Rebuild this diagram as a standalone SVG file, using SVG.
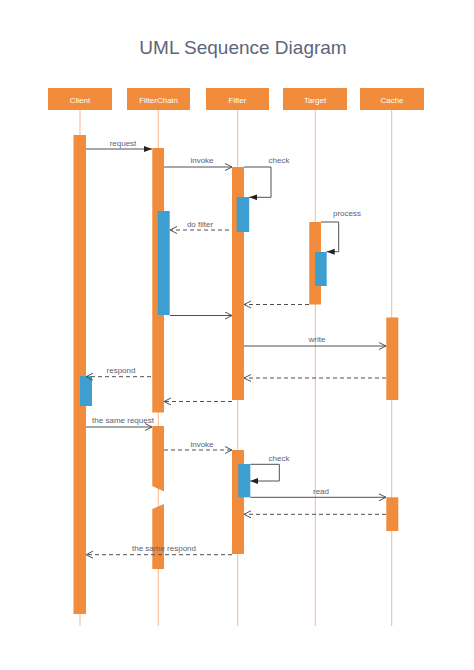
<svg xmlns="http://www.w3.org/2000/svg" width="474" height="670" viewBox="0 0 474 670">
<defs>
<style>
.hdr{fill:#f08c3b}
.act{fill:#f08c3b}
.blu{fill:#3d9fd0}
.life{stroke:#f3b891;stroke-width:1}
.htxt{font-family:"Liberation Sans",Arial,sans-serif;font-size:8px;fill:#ffffff;text-anchor:middle}
.lbl{font-family:"Liberation Sans",Arial,sans-serif;font-size:8px;fill:#5a6274;text-anchor:middle}
.msg{stroke:#505050;stroke-width:1;fill:none}
.dash{stroke-dasharray:4,3}
.open{marker-end:url(#openHead)}
.fill{marker-end:url(#fillHead)}
</style>
<marker id="openHead" markerUnits="userSpaceOnUse" markerWidth="10" markerHeight="10" refX="7" refY="4" orient="auto">
<path d="M0,0.5 L7,4 L0,7.5" fill="none" stroke="#505050" stroke-width="1"/>
</marker>
<marker id="fillHead" markerUnits="userSpaceOnUse" markerWidth="10" markerHeight="10" refX="8" refY="3.5" orient="auto">
<path d="M0,0.5 L8,3.5 L0,6.5 Z" fill="#222222"/>
</marker>
</defs>
<rect width="474" height="670" fill="#ffffff"/>
<text x="243" y="54" font-family="'Liberation Sans',Arial,sans-serif" font-size="19" fill="#5d6579" text-anchor="middle">UML Sequence Diagram</text>

<g id="client">
<line class="life" x1="80" y1="110" x2="80" y2="626"/>
<rect class="hdr" x="48" y="88" width="64" height="22"/>
<text class="htxt" x="80" y="103">Client</text>
<rect class="act" x="73.5" y="135" width="12.5" height="479"/>
<rect class="blu" x="80" y="376" width="12" height="30"/>
</g>

<g id="filterchain">
<line class="life" x1="158.3" y1="110" x2="158.3" y2="626"/>
<rect class="hdr" x="127" y="88" width="63" height="22"/>
<text class="htxt" x="158.5" y="103">FilterChain</text>
<rect class="act" x="152.3" y="148" width="11.7" height="264.5"/>
<rect class="blu" x="157.7" y="211" width="12" height="104"/>
<polygon class="act" points="152.3,426 164,426 164,491.5 152.3,486"/>
<polygon class="act" points="152.3,509 164,504 164,569 152.3,569"/>
</g>

<g id="filter">
<line class="life" x1="237.7" y1="110" x2="237.7" y2="626"/>
<rect class="hdr" x="206" y="88" width="63" height="22"/>
<text class="htxt" x="237.5" y="103">Filter</text>
<rect class="act" x="232" y="167" width="12" height="233"/>
<rect class="blu" x="236.7" y="197" width="12.5" height="35"/>
<rect class="act" x="232" y="450" width="12" height="104"/>
<rect class="blu" x="238.3" y="464" width="12" height="33.3"/>
</g>

<g id="target">
<line class="life" x1="315.3" y1="110" x2="315.3" y2="626"/>
<rect class="hdr" x="283" y="88" width="64" height="22"/>
<text class="htxt" x="315" y="103">Target</text>
<rect class="act" x="309.3" y="222" width="11.7" height="82.5"/>
<rect class="blu" x="315" y="252" width="11.7" height="34"/>
</g>

<g id="cache">
<line class="life" x1="391.7" y1="110" x2="391.7" y2="626"/>
<rect class="hdr" x="360" y="88" width="64" height="22"/>
<text class="htxt" x="392" y="103">Cache</text>
<rect class="act" x="386.3" y="317.5" width="12" height="82.5"/>
<rect class="act" x="386.3" y="497.3" width="12" height="33.7"/>
</g>

<g id="connectors">
<path class="msg fill" d="M86,149 H152"/>
<text class="lbl" x="123" y="145.5">request</text>
<path class="msg open" d="M164,167 H232"/>
<text class="lbl" x="202" y="163">invoke</text>
<path class="msg fill" d="M244,167 H271 V197.3 H249.2"/>
<text class="lbl" x="279" y="162.5">check</text>
<path class="msg dash open" d="M229,230 H170"/>
<text class="lbl" x="200" y="226.5">do filter</text>
<path class="msg fill" d="M321,222 H338.7 V251.7 H326.7"/>
<text class="lbl" x="347" y="215.5">process</text>
<path class="msg dash open" d="M309,304.5 H244"/>
<path class="msg open" d="M170,315.5 H232"/>
<path class="msg open" d="M244,346 H386"/>
<text class="lbl" x="317" y="342">write</text>
<path class="msg dash open" d="M386,378 H244"/>
<path class="msg dash open" d="M151,376.7 H86"/>
<text class="lbl" x="121" y="373">respond</text>
<path class="msg dash open" d="M232,401.5 H164"/>
<path class="msg open" d="M86,427 H152"/>
<text class="lbl" x="123" y="422.5">the same request</text>
<path class="msg dash open" d="M164,450 H232"/>
<text class="lbl" x="202" y="446.5">invoke</text>
<path class="msg fill" d="M250.3,464.3 H279.3 V481 H250.3"/>
<text class="lbl" x="279" y="460.5">check</text>
<path class="msg open" d="M250.3,497.3 H386"/>
<text class="lbl" x="321" y="494">read</text>
<path class="msg dash open" d="M386,514.3 H244"/>
<path class="msg dash open" d="M232,554.7 H86"/>
<text class="lbl" x="164" y="551">the same respond</text>
</g>
</svg>
